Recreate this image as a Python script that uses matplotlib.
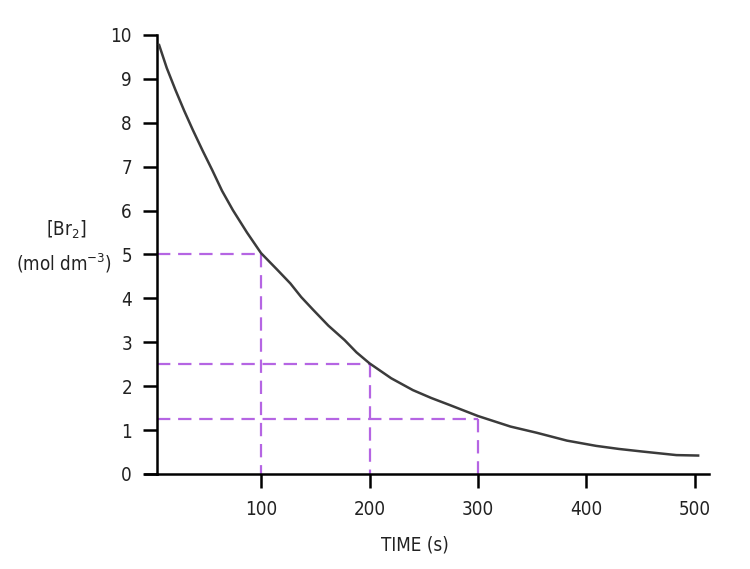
import matplotlib
matplotlib.use("Agg")
import matplotlib.pyplot as plt
from matplotlib.lines import Line2D

plt.rcParams['font.family'] = ['DejaVu Sans']
plt.rcParams['font.stretch'] = 'condensed'
plt.rcParams['mathtext.fontset'] = 'custom'
plt.rcParams['mathtext.rm'] = 'DejaVu Sans:stretch=condensed'
plt.rcParams['mathtext.it'] = 'DejaVu Sans:stretch=condensed'

# Data
time_s = [6, 13, 21, 29, 37, 46, 55, 64, 74, 87, 100, 115, 127, 137, 148,
          162, 177, 188, 200, 220, 240, 257, 274, 300, 330, 354, 382, 409,
          430, 452, 483, 503]
br2 = [9.77, 9.25, 8.75, 8.28, 7.84, 7.37, 6.92, 6.45, 6.01, 5.50, 5.03,
       4.65, 4.34, 4.03, 3.74, 3.38, 3.05, 2.77, 2.52, 2.18, 1.91, 1.73,
       1.57, 1.32, 1.08, 0.94, 0.76, 0.64, 0.57, 0.51, 0.43, 0.42]

guide_times = [100, 200, 300]
guide_conc = [5, 2.5, 1.25]

x_ticks = [100, 200, 300, 400, 500]
x_tick_labels = ['100', '200', '300', '400', '500']
y_ticks = list(range(0, 11))
y_tick_labels = [str(v) for v in y_ticks]

fig = plt.figure(figsize=(7.5, 5.69), dpi=100)
ax = fig.add_axes([0.2093, 0.167, 0.7360, 0.7715])

purple = '#B565E3'
for t, c in zip(guide_times, guide_conc):
    ax.plot([4, t], [c, c], color=purple, lw=1.6, dashes=(6, 3.5), zorder=2)
    ax.plot([t, t], [c, 0], color=purple, lw=1.6, dashes=(6, 3.5), zorder=2)

ax.plot(time_s, br2, color='#3b3b3b', lw=1.8, zorder=3,
        solid_joinstyle='round')

ax.set_xlim(4, 513)
ax.set_ylim(0, 10)

for s in ['top', 'right']:
    ax.spines[s].set_visible(False)
for s in ['left', 'bottom']:
    ax.spines[s].set_linewidth(1.8)
    ax.spines[s].set_color('black')

# extend x axis slightly left of y axis
ax.add_line(Line2D([-7, 4], [0, 0], color='black', lw=1.8, clip_on=False))

ax.set_xticks(x_ticks)
ax.set_xticklabels(x_tick_labels)
ax.set_yticks(y_ticks)
ax.set_yticklabels(y_tick_labels)
ax.tick_params(axis='both', direction='out', length=10, width=1.8,
               labelsize=13.5, color='black', labelcolor='#222222')
ax.tick_params(axis='x', pad=9)
ax.tick_params(axis='y', pad=8)

fig.text(415 / 750, 1 - 545 / 569, 'TIME (s)', fontsize=13.5, ha='center',
         va='center', color='#222222')

fig.text(66 / 750, 1 - 230 / 569, '[Br$_2$]', fontsize=13.5, ha='center',
         va='center', color='#222222')
fig.text(64 / 750, 1 - 263 / 569, '(mol dm$^{-3}$)', fontsize=13.5, ha='center',
         va='center', color='#222222')

fig.savefig('out.png', dpi=100)
